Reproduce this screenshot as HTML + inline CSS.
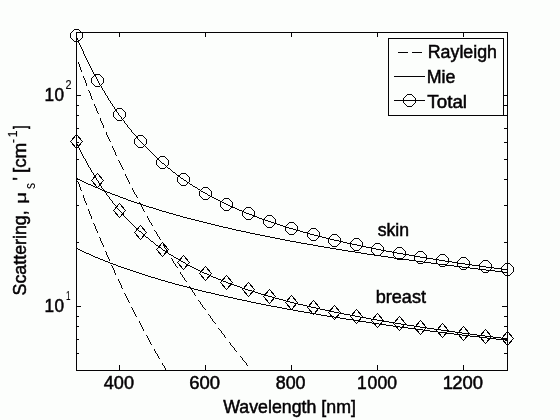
<!DOCTYPE html>
<html><head><meta charset="utf-8"><title>Scattering</title>
<style>html,body{margin:0;padding:0;background:#fcfefc;overflow:hidden}body{width:560px;height:420px;position:relative}</style>
</head><body>
<svg width="560" height="420" viewBox="0 0 560 420" style="position:absolute;left:0;top:0">
<rect x="0" y="0" width="560" height="420" fill="#fcfefc"/>
<defs><clipPath id="ax"><rect x="76.0" y="32.0" width="432.0" height="339.0"/></clipPath></defs>
<g fill="none" stroke="#040204" stroke-width="1" shape-rendering="crispEdges">
<rect x="76.5" y="32.5" width="431.0" height="338.0"/>
<path d="M119.5 370.5v-5.5M119.5 32.5v4.5M205.5 370.5v-5.5M205.5 32.5v4.5M291.5 370.5v-5.5M291.5 32.5v4.5M377.5 370.5v-5.5M377.5 32.5v4.5M463.5 370.5v-5.5M463.5 32.5v4.5M76.5 353.5h2.5M507.5 353.5h-3.5M76.5 339.5h2.5M507.5 339.5h-3.5M76.5 326.5h2.5M507.5 326.5h-3.5M76.5 316.5h2.5M507.5 316.5h-3.5M76.5 306.5h4.5M507.5 306.5h-5.5M76.5 242.5h2.5M507.5 242.5h-3.5M76.5 205.5h2.5M507.5 205.5h-3.5M76.5 179.5h2.5M507.5 179.5h-3.5M76.5 159.5h2.5M507.5 159.5h-3.5M76.5 142.5h2.5M507.5 142.5h-3.5M76.5 128.5h2.5M507.5 128.5h-3.5M76.5 115.5h2.5M507.5 115.5h-3.5M76.5 105.5h2.5M507.5 105.5h-3.5M76.5 95.5h4.5M507.5 95.5h-5.5"/>
<path d="M207 223.5h4M274 223.5h3M76 248.5h2M330 248.5h6M371 248.5h5M194 289.5h4M245 289.5h3M139 273.5h3M204 273.5h3M246 232.5h4M303 232.5h4M318 246.5h6M361 246.5h5M446 333.5h8M462 333.5h8M113 264.5h3M186 264.5h2M438 264.5h8M465 264.5h7M260 235.5h5M314 235.5h4M156 245.5h2M313 245.5h5M357 245.5h4M183 286.5h4M237 286.5h3M159 247.5h2M324 247.5h6M366 247.5h5M256 303.5h5M294 303.5h4M316 314.5h5M344 314.5h6M298 311.5h6M330 311.5h4M103 260.5h2M179 260.5h2M409 260.5h7M439 260.5h6M123 198.5h3M214 198.5h2M228 228.5h4M289 228.5h4M124 268.5h3M194 268.5h2M470 268.5h8M494 268.5h7M84 182.5h2M187 182.5h2M86 253.5h3M361 253.5h6M397 253.5h6M366 322.5h6M389 322.5h6M215 225.5h4M280 225.5h3M187 218.5h4M259 218.5h3M162 163.5h2M172 283.5h3M228 283.5h3M496 339.5h9M228 297.5h5M272 297.5h3M127 269.5h3M196 269.5h2M478 269.5h8M501 269.5h6M415 329.5h8M434 329.5h7M76 178.5h2M181 178.5h2M236 230.5h5M296 230.5h4M219 295.5h5M265 295.5h3M334 317.5h6M360 317.5h6M133 271.5h3M200 271.5h2M495 271.5h8M175 284.5h4M231 284.5h3M143 205.5h3M228 205.5h2M80 250.5h2M163 250.5h2M342 250.5h6M381 250.5h5M479 337.5h8M493 337.5h8M179 285.5h4M234 285.5h3M78 179.5h2M169 213.5h4M246 213.5h3M379 324.5h7M401 324.5h6M93 186.5h2M193 186.5h2M232 229.5h4M293 229.5h3M198 290.5h4M248 290.5h4M86 183.5h2M211 224.5h4M277 224.5h3M321 315.5h6M350 315.5h5M176 215.5h4M252 215.5h2M386 325.5h7M407 325.5h7M438 332.5h8M455 332.5h7M105 261.5h3M181 261.5h2M416 261.5h7M445 261.5h7M237 299.5h5M279 299.5h4M104 191.5h3M201 191.5h2M89 254.5h2M169 254.5h2M367 254.5h7M403 254.5h6M307 244.5h6M352 244.5h5M121 267.5h3M192 267.5h2M462 267.5h8M486 267.5h8M148 276.5h3M211 276.5h2M136 272.5h3M202 272.5h2M503 272.5h4M293 310.5h5M325 310.5h5M82 251.5h2M348 251.5h7M386 251.5h6M180 216.5h3M254 216.5h3M115 195.5h3M208 195.5h2M233 298.5h4M275 298.5h4M165 281.5h3M223 281.5h3M95 187.5h3M195 187.5h2M408 328.5h7M427 328.5h7M78 249.5h2M336 249.5h6M376 249.5h5M93 256.5h2M381 256.5h7M414 256.5h6M108 262.5h2M183 262.5h2M423 262.5h8M452 262.5h6M156 209.5h3M237 209.5h2M340 318.5h6M366 318.5h5M110 263.5h3M431 263.5h7M458 263.5h7M261 304.5h5M298 304.5h5M310 313.5h6M339 313.5h5M190 288.5h4M242 288.5h3M353 320.5h6M377 320.5h6M255 234.5h5M310 234.5h4M505 340.5h2M400 327.5h8M420 327.5h7M84 252.5h2M166 252.5h2M355 252.5h6M392 252.5h5M242 300.5h5M283 300.5h3M88 184.5h3M190 184.5h2M296 242.5h5M343 242.5h4M139 231.5h2M241 231.5h5M300 231.5h3M126 199.5h2M216 199.5h2M359 321.5h7M383 321.5h6M118 266.5h3M190 266.5h2M454 266.5h8M479 266.5h7M95 257.5h3M174 257.5h2M388 257.5h6M420 257.5h6M168 282.5h4M226 282.5h2M159 210.5h3M239 210.5h3M327 316.5h7M355 316.5h5M130 270.5h3M198 270.5h2M486 270.5h9M462 335.5h8M477 335.5h8M177 175.5h2M393 326.5h7M414 326.5h6M91 255.5h2M171 255.5h2M374 255.5h7M409 255.5h5M128 200.5h3M218 200.5h2M287 309.5h6M320 309.5h5M82 181.5h2M346 319.5h7M371 319.5h6M266 305.5h5M303 305.5h4M224 296.5h4M268 296.5h4M285 240.5h5M334 240.5h5M271 306.5h6M307 306.5h4M116 265.5h2M188 265.5h2M446 265.5h8M472 265.5h7M173 214.5h3M249 214.5h3M162 211.5h4M242 211.5h2M149 207.5h4M232 207.5h3M454 334.5h8M470 334.5h7M304 312.5h6M334 312.5h5M430 331.5h8M448 331.5h7M423 330.5h7M441 330.5h7M151 241.5h2M290 241.5h6M339 241.5h4M98 258.5h2M176 258.5h2M394 258.5h8M426 258.5h7M153 208.5h3M235 208.5h2M146 237.5h2M270 237.5h5M322 237.5h4M275 238.5h5M326 238.5h4M187 287.5h4M240 287.5h2M487 338.5h9M501 338.5h6M251 302.5h5M290 302.5h4M277 307.5h5M311 307.5h5M282 308.5h5M316 308.5h4M195 220.5h4M265 220.5h3M134 202.5h3M222 202.5h2M215 294.5h4M261 294.5h4M280 239.5h5M330 239.5h4M142 274.5h3M207 274.5h2M372 323.5h7M395 323.5h6M250 233.5h5M307 233.5h3M203 222.5h4M271 222.5h3M265 236.5h5M318 236.5h4M146 206.5h3M230 206.5h2M80 180.5h2M184 180.5h2M191 219.5h4M262 219.5h3M301 243.5h6M347 243.5h5M158 279.5h3M218 279.5h3M91 185.5h2M161 280.5h4M221 280.5h2M223 227.5h5M286 227.5h3M140 204.5h3M226 204.5h2M219 226.5h4M283 226.5h3M120 197.5h3M212 197.5h2M112 194.5h3M131 201.5h3M220 201.5h2M247 301.5h4M286 301.5h4M166 212.5h3M244 212.5h2M470 336.5h9M485 336.5h8M118 196.5h2M210 196.5h2M110 193.5h2M205 193.5h2M199 221.5h4M268 221.5h3M211 293.5h4M258 293.5h3M206 292.5h5M255 292.5h3M100 259.5h3M402 259.5h7M433 259.5h6M183 217.5h4M257 217.5h2M155 278.5h3M216 278.5h2M107 192.5h3M203 192.5h2M145 275.5h3M209 275.5h2M137 203.5h4M224 203.5h2M151 277.5h4M213 277.5h3M173 172.5h2M98 188.5h2M202 291.5h4M252 291.5h3M168 168.5h2M100 189.5h2M198 189.5h2M102 190.5h3M131.5 130v2M131.5 223v1M131.5 307v1M121.5 117v2M121.5 165v2M121.5 212v1M121.5 285v3M118.5 113v2M118.5 160v1M118.5 209v1M118.5 279v2M159.5 160v1M159.5 237v2M159.5 358v1M233.5 347v1M142.5 143v1M142.5 207v2M142.5 233v1M142.5 327v2M170.5 169v1M164.5 164v1M164.5 246v2M164.5 366v2M129.5 128v1M129.5 182v2M129.5 221v1M129.5 302v1M116.5 110v2M116.5 155v1M116.5 206v2M193.5 292v1M85.5 56v2M85.5 80v3M85.5 159v2M85.5 201v2M76.5 35v3M76.5 55v3M76.5 141v3M76.5 175v2M128.5 127v1M128.5 180v2M128.5 220v1M128.5 300v2M103.5 90v1M103.5 125v3M103.5 189v1M103.5 245v2M93.5 72v2M93.5 173v2M93.5 223v1M157.5 158v1M157.5 234v2M157.5 354v2M135.5 135v1M135.5 194v1M135.5 227v1M135.5 314v2M110.5 101v2M110.5 141v1M110.5 199v1M210.5 316v2M95.5 75v2M95.5 106v2M95.5 177v1M95.5 226v3M86.5 58v2M86.5 83v3M86.5 161v2M86.5 203v2M141.5 142v1M141.5 205v2M141.5 232v1M141.5 325v2M211.5 318v1M100.5 85v1M100.5 118v3M100.5 185v1M100.5 238v3M106.5 95v1M106.5 132v3M106.5 193v2M106.5 252v3M78.5 40v3M78.5 62v2M78.5 146v2M78.5 182v2M113.5 106v1M113.5 148v2M113.5 203v1M113.5 268v2M123.5 120v1M123.5 169v1M123.5 214v2M96.5 77v2M96.5 108v3M96.5 178v2M96.5 229v2M120.5 116v1M120.5 163v2M120.5 211v1M120.5 283v2M140.5 141v1M140.5 323v2M130.5 129v1M130.5 222v1M79.5 43v2M79.5 64v3M79.5 148v2M79.5 184v3M102.5 88v2M102.5 123v2M102.5 188v1M102.5 243v2M82.5 49v2M82.5 154v2M134.5 134v1M134.5 192v2M134.5 226v1M134.5 312v2M122.5 119v1M122.5 167v2M122.5 213v1M122.5 288v1M192.5 185v1M192.5 290v2M88.5 62v2M88.5 90v1M88.5 165v2M88.5 209v2M115.5 109v1M115.5 152v3M115.5 205v1M115.5 273v2M147.5 148v1M147.5 216v2M147.5 336v2M127.5 125v2M127.5 178v2M127.5 219v1M127.5 298v2M109.5 100v1M109.5 139v2M109.5 197v2M109.5 259v2M156.5 157v1M156.5 232v2M156.5 353v1M137.5 137v2M137.5 197v1M137.5 229v1M236.5 351v1M132.5 132v1M132.5 188v2M132.5 224v1M132.5 308v2M149.5 150v1M149.5 220v2M149.5 239v1M149.5 340v2M165.5 165v1M165.5 248v1M165.5 251v1M165.5 368v2M221.5 331v2M166.5 166v1M166.5 249v2M166.5 370v1M224.5 335v2M207.5 194v1M180.5 177v1M180.5 272v2M225.5 337v1M101.5 86v2M101.5 121v2M101.5 186v2M101.5 241v2M191.5 289v1M146.5 147v1M146.5 335v1M148.5 149v1M148.5 218v2M148.5 238v1M148.5 338v2M163.5 244v2M163.5 365v1M200.5 190v1M200.5 302v2M108.5 98v2M108.5 137v2M108.5 196v1M108.5 257v2M91.5 68v2M91.5 96v3M91.5 170v2M91.5 216v3M246.5 363v2M153.5 154v1M153.5 242v1M214.5 322v1M99.5 83v2M99.5 183v2M99.5 237v1M119.5 115v1M119.5 161v2M119.5 210v1M119.5 281v2M247.5 365v1M126.5 124v1M126.5 176v2M126.5 218v1M126.5 296v2M94.5 74v1M94.5 104v2M94.5 175v2M94.5 224v2M154.5 155v1M154.5 230v1M154.5 243v1M154.5 349v2M84.5 54v2M84.5 78v2M84.5 158v1M84.5 198v3M80.5 45v2M80.5 67v3M80.5 150v2M80.5 187v3M81.5 47v2M81.5 70v2M81.5 152v2M81.5 190v1M77.5 38v2M77.5 144v2M77.5 181v1M173.5 256v1M173.5 261v2M144.5 145v1M144.5 211v1M144.5 235v1M160.5 161v1M160.5 239v1M174.5 263v1M185.5 263v1M185.5 280v1M158.5 159v1M158.5 236v1M158.5 246v1M158.5 356v2M90.5 66v2M90.5 93v3M90.5 168v2M90.5 214v2M195.5 295v1M161.5 162v1M161.5 248v1M198.5 300v1M172.5 171v1M172.5 259v2M175.5 173v1M175.5 264v2M87.5 60v2M87.5 163v2M199.5 301v1M151.5 152v1M151.5 223v2M151.5 344v1M176.5 174v1M176.5 266v1M213.5 321v1M152.5 153v1M152.5 225v1M125.5 123v1M125.5 174v2M125.5 217v1M125.5 294v2M143.5 144v1M143.5 209v2M143.5 234v1M143.5 329v2M83.5 51v3M83.5 76v2M83.5 156v2M83.5 195v3M107.5 96v2M107.5 135v2M107.5 195v1M107.5 255v2M124.5 121v2M124.5 216v1M124.5 293v1M234.5 348v2M194.5 293v2M202.5 305v2M155.5 156v1M155.5 231v1M155.5 244v1M155.5 351v2M133.5 133v1M133.5 190v2M133.5 225v1M133.5 310v2M162.5 249v1M162.5 363v2M98.5 81v2M98.5 113v1M98.5 181v2M171.5 170v1M171.5 258v1M117.5 112v1M117.5 208v1M168.5 253v1M186.5 181v1M186.5 281v1M212.5 319v2M97.5 79v2M97.5 111v2M97.5 180v1M97.5 231v2M89.5 64v2M89.5 91v2M89.5 167v1M89.5 211v3M105.5 93v2M105.5 192v1M105.5 251v1M114.5 107v2M114.5 150v2M114.5 204v1M114.5 270v3M231.5 345v1M138.5 139v1M138.5 230v1M150.5 151v1M150.5 222v1M150.5 240v1M150.5 342v2M201.5 304v1M167.5 167v1M167.5 251v1M215.5 323v1M139.5 140v1M139.5 202v1M139.5 321v2M104.5 91v2M112.5 104v2M112.5 146v2M112.5 201v2M112.5 266v2M230.5 343v2M182.5 275v2M183.5 179v1M183.5 277v1M218.5 328v1M219.5 329v1M145.5 146v1M145.5 236v1M111.5 103v1M111.5 200v1M111.5 265v1M92.5 70v2M92.5 99v1M92.5 172v1M229.5 342v1M203.5 307v1M240.5 356v1M204.5 308v1M181.5 274v1M177.5 267v1M178.5 259v1M136.5 136v1M136.5 195v2M136.5 228v1M136.5 316v1M243.5 360v1M184.5 278v2M232.5 346v1M242.5 358v2M220.5 330v1M179.5 176v1M235.5 350v1M241.5 357v1M205.5 309v1M197.5 188v1M208.5 314v1M209.5 315v1M222.5 333v1M189.5 183v1M189.5 286v1M223.5 334v1M244.5 361v1M245.5 362v1"/>
<path d="M74.5 29.5L78.5 29.5L82.5 33.5L82.5 37.5L78.5 41.5L74.5 41.5L70.5 37.5L70.5 33.5ZM95.5 74.5L99.5 74.5L103.5 78.5L103.5 82.5L99.5 86.5L95.5 86.5L91.5 82.5L91.5 78.5ZM117.5 108.5L121.5 108.5L125.5 112.5L125.5 116.5L121.5 120.5L117.5 120.5L113.5 116.5L113.5 112.5ZM138.5 135.5L142.5 135.5L146.5 139.5L146.5 143.5L142.5 147.5L138.5 147.5L134.5 143.5L134.5 139.5ZM160.5 156.5L164.5 156.5L168.5 160.5L168.5 164.5L164.5 168.5L160.5 168.5L156.5 164.5L156.5 160.5ZM181.5 173.5L185.5 173.5L189.5 177.5L189.5 181.5L185.5 185.5L181.5 185.5L177.5 181.5L177.5 177.5ZM203.5 187.5L207.5 187.5L211.5 191.5L211.5 195.5L207.5 199.5L203.5 199.5L199.5 195.5L199.5 191.5ZM224.5 198.5L228.5 198.5L232.5 202.5L232.5 206.5L228.5 210.5L224.5 210.5L220.5 206.5L220.5 202.5ZM246.5 207.5L250.5 207.5L254.5 211.5L254.5 215.5L250.5 219.5L246.5 219.5L242.5 215.5L242.5 211.5ZM267.5 215.5L271.5 215.5L275.5 219.5L275.5 223.5L271.5 227.5L267.5 227.5L263.5 223.5L263.5 219.5ZM289.5 222.5L293.5 222.5L297.5 226.5L297.5 230.5L293.5 234.5L289.5 234.5L285.5 230.5L285.5 226.5ZM311.5 228.5L315.5 228.5L319.5 232.5L319.5 236.5L315.5 240.5L311.5 240.5L307.5 236.5L307.5 232.5ZM332.5 234.5L336.5 234.5L340.5 238.5L340.5 242.5L336.5 246.5L332.5 246.5L328.5 242.5L328.5 238.5ZM354.5 238.5L358.5 238.5L362.5 242.5L362.5 246.5L358.5 250.5L354.5 250.5L350.5 246.5L350.5 242.5ZM375.5 243.5L379.5 243.5L383.5 247.5L383.5 251.5L379.5 255.5L375.5 255.5L371.5 251.5L371.5 247.5ZM397.5 247.5L401.5 247.5L405.5 251.5L405.5 255.5L401.5 259.5L397.5 259.5L393.5 255.5L393.5 251.5ZM418.5 251.5L422.5 251.5L426.5 255.5L426.5 259.5L422.5 263.5L418.5 263.5L414.5 259.5L414.5 255.5ZM440.5 254.5L444.5 254.5L448.5 258.5L448.5 262.5L444.5 266.5L440.5 266.5L436.5 262.5L436.5 258.5ZM461.5 257.5L465.5 257.5L469.5 261.5L469.5 265.5L465.5 269.5L461.5 269.5L457.5 265.5L457.5 261.5ZM483.5 260.5L487.5 260.5L491.5 264.5L491.5 268.5L487.5 272.5L483.5 272.5L479.5 268.5L479.5 264.5ZM505.5 263.5L509.5 263.5L513.5 267.5L513.5 271.5L509.5 275.5L505.5 275.5L501.5 271.5L501.5 267.5ZM70.5 141.5L76.5 134.5L82.5 141.5L76.5 148.5ZM91.5 180.5L97.5 173.5L103.5 180.5L97.5 187.5ZM113.5 210.5L119.5 203.5L125.5 210.5L119.5 217.5ZM134.5 232.5L140.5 225.5L146.5 232.5L140.5 239.5ZM156.5 249.5L162.5 242.5L168.5 249.5L162.5 256.5ZM177.5 262.5L183.5 255.5L189.5 262.5L183.5 269.5ZM199.5 273.5L205.5 266.5L211.5 273.5L205.5 280.5ZM220.5 282.5L226.5 275.5L232.5 282.5L226.5 289.5ZM242.5 289.5L248.5 282.5L254.5 289.5L248.5 296.5ZM263.5 296.5L269.5 289.5L275.5 296.5L269.5 303.5ZM285.5 302.5L291.5 295.5L297.5 302.5L291.5 309.5ZM307.5 307.5L313.5 300.5L319.5 307.5L313.5 314.5ZM328.5 312.5L334.5 305.5L340.5 312.5L334.5 319.5ZM350.5 316.5L356.5 309.5L362.5 316.5L356.5 323.5ZM371.5 320.5L377.5 313.5L383.5 320.5L377.5 327.5ZM393.5 323.5L399.5 316.5L405.5 323.5L399.5 330.5ZM414.5 327.5L420.5 320.5L426.5 327.5L420.5 334.5ZM436.5 330.5L442.5 323.5L448.5 330.5L442.5 337.5ZM457.5 333.5L463.5 326.5L469.5 333.5L463.5 340.5ZM479.5 336.5L485.5 329.5L491.5 336.5L485.5 343.5ZM501.5 338.5L507.5 331.5L513.5 338.5L507.5 345.5Z"/>
<rect x="388.5" y="38.5" width="115" height="77" fill="#fcfefc"/>
<path d="M398 52.5H408M412 52.5H422M394 76.5H425M394 100.5H425"/>
<path d="M407.5 94.5L411.5 94.5L415.5 98.5L415.5 102.5L411.5 106.5L407.5 106.5L403.5 102.5L403.5 98.5Z"/>
</g>
<g font-family="'Liberation Sans', Arial, Helvetica, sans-serif" font-size="18.0px" fill="#040204" stroke="#040204" stroke-width="0.50">
<text transform="translate(103.75 389.00) scale(1.0085 1.000)" font-size="18.0px">400</text>
<text transform="translate(189.23 389.00) scale(1.0261 1.000)" font-size="18.0px">600</text>
<text transform="translate(275.70 389.00) scale(0.9931 1.000)" font-size="18.0px">800</text>
<text transform="translate(0 389.00) scale(0.9759 1)" font-size="18.0px"><tspan x="365.91">1</tspan><tspan x="376.70">000</tspan></text>
<text transform="translate(0 389.00) scale(1.0261 1)" font-size="18.0px"><tspan x="431.56">1</tspan><tspan x="440.64">200</tspan></text>
<text transform="translate(223.25 412.80) scale(0.9873 1.000)" font-size="18.0px">Wavelength [nm]</text>
<text transform="translate(0 100.90) scale(0.9556 1)" font-size="18.0px"><tspan x="46.45">1</tspan><tspan x="57.06">0</tspan></text>
<text transform="translate(65.48 88.90) scale(0.8480 1.000)" font-size="12.8px" stroke-width="0.15">2</text>
<text transform="translate(0 311.90) scale(0.9556 1)" font-size="18.0px"><tspan x="46.45">1</tspan><tspan x="57.06">0</tspan></text>
<text transform="translate(65.93 299.90) scale(0.6333 1.000)" font-size="12.8px" stroke-width="0.15">1</text>
<text transform="translate(427.76 58.00) scale(0.9889 1.000)" font-size="18.0px">Rayleigh</text>
<text transform="translate(426.76 82.70) scale(0.9908 1.000)" font-size="18.0px">Mie</text>
<text transform="translate(427.34 107.70) scale(1.0449 1.000)" font-size="18.0px">Total</text>
<text transform="translate(377.66 235.60) scale(0.9789 1.000)" font-size="18.0px">skin</text>
<text transform="translate(375.69 302.60) scale(1.0061 1.000)" font-size="18.0px">breast</text>
<g transform="translate(26 294.5) rotate(-90)">
<text transform="translate(0 0.00) scale(0.9906 1)" font-size="18.0px"><tspan x="-1.00">Scattering</tspan><tspan x="79.91">,</tspan></text>
<text transform="translate(90.49 0.00) scale(1.3517 1.000)" font-size="15.5px" stroke-width="0.30">μ</text>
<text transform="translate(105.60 9.30) scale(0.8143 1.000)" font-size="15px" stroke-width="0.00">s</text>
<text transform="translate(113.71 0.00) scale(1.0500 1.000)" font-size="18.0px">'</text>
<text transform="translate(121.46 0.00) scale(1.0444 1.000)" font-size="18.0px">[cm</text>
<text transform="translate(0 -9.00) scale(0.9500 1)" font-size="12.8px" stroke-width="0.20"><tspan x="159.43">-</tspan><tspan x="165.51">1</tspan></text>
<text transform="translate(165.60 0.00) scale(0.6750 1.000)" font-size="18.0px">]</text>
</g>
</g>
</svg>
</body></html>
